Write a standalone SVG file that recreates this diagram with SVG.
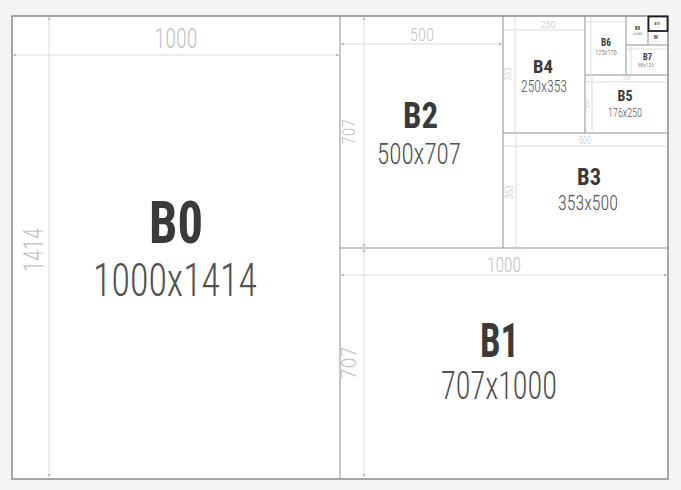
<svg xmlns="http://www.w3.org/2000/svg" width="681" height="490" viewBox="0 0 681 490">
<defs>
<style>
.bg{fill:#f4f4f4}
.paper{fill:#ffffff;stroke:#7a7a7a;stroke-width:1.3}
.div{stroke:#8f8f8f;stroke-width:1;fill:none}
.dim{stroke:#dcdcdc;stroke-width:1;fill:none}
.name{font-family:"Roboto Condensed","Liberation Sans Narrow","DejaVu Sans Condensed",Roboto,sans-serif;font-weight:700;fill:#3a3a3a;text-anchor:middle}
.size{font-family:"Roboto Condensed","Liberation Sans Narrow","DejaVu Sans Condensed",Roboto,sans-serif;font-weight:300;fill:#505050;text-anchor:middle}
.dl{font-family:"Roboto Condensed","Liberation Sans Narrow","DejaVu Sans Condensed",Roboto,sans-serif;font-weight:300;fill:#c2c2c2;text-anchor:middle}
</style>
<marker id="tick" viewBox="0 0 6 6" refX="6" refY="3" markerWidth="3" markerHeight="3" orient="auto-start-reverse">
<path d="M0,0 L6,3 L0,6 z" fill="#b5b5b5"/>
</marker>
</defs>
<rect class="bg" x="0" y="0" width="681" height="490"/>
<rect class="paper" x="12" y="16" width="656" height="463"/>

<g id="connectors">
<!-- B0 -->
<line class="dim" x1="13" y1="55" x2="339" y2="55" marker-start="url(#tick)" marker-end="url(#tick)"/>
<line class="dim" x1="49" y1="17" x2="49" y2="477" marker-start="url(#tick)" marker-end="url(#tick)"/>
<!-- B1 -->
<line class="dim" x1="341" y1="275" x2="667" y2="275" marker-start="url(#tick)" marker-end="url(#tick)"/>
<line class="dim" x1="364" y1="249" x2="364" y2="477" marker-start="url(#tick)" marker-end="url(#tick)"/>
<!-- B2 -->
<line class="dim" x1="341" y1="44" x2="502" y2="44" marker-start="url(#tick)" marker-end="url(#tick)"/>
<line class="dim" x1="364" y1="17" x2="364" y2="247" marker-start="url(#tick)" marker-end="url(#tick)"/>
<!-- B3 -->
<line class="dim" x1="504" y1="146" x2="667" y2="146"/>
<line class="dim" x1="516" y1="134" x2="516" y2="247"/>
<!-- B4 -->
<line class="dim" x1="504" y1="30" x2="584" y2="30"/>
<line class="dim" x1="515" y1="17" x2="515" y2="132"/>
<!-- B5 -->
<line class="dim" x1="586" y1="82" x2="667" y2="82"/>
<line class="dim" x1="592" y1="76" x2="592" y2="132"/>
<!-- B6 -->
<line class="dim" x1="586" y1="22" x2="625" y2="22"/>
<line class="dim" x1="591" y1="17" x2="591" y2="74"/>
<!-- B7 -->
<line class="dim" x1="627" y1="49" x2="667" y2="49"/>
<line class="dim" x1="631" y1="46" x2="631" y2="74"/>
</g>

<g id="dividers">
<line class="div" x1="340" y1="16" x2="340" y2="479"/>
<line class="div" x1="340" y1="248" x2="668" y2="248"/>
<line class="div" x1="503" y1="16" x2="503" y2="248"/>
<line class="div" x1="503" y1="133" x2="668" y2="133"/>
<line class="div" x1="585" y1="16" x2="585" y2="133"/>
<line class="div" x1="585" y1="75" x2="668" y2="75"/>
<line class="div" x1="626" y1="16" x2="626" y2="75"/>
<line class="div" x1="626" y1="45" x2="668" y2="45"/>
<line class="div" x1="648" y1="16" x2="648" y2="45"/>
<line class="div" x1="648" y1="31" x2="668" y2="31"/>
</g>

<g id="B0">
<text class="name" x="176" y="243" font-size="60" textLength="54" lengthAdjust="spacingAndGlyphs">B0</text>
<text class="size" x="175" y="296" font-size="46" textLength="164" lengthAdjust="spacingAndGlyphs">1000x1414</text>
<text class="dl" x="176" y="48" font-size="27" textLength="43" lengthAdjust="spacingAndGlyphs">1000</text>
<text class="dl" transform="translate(43,250) rotate(-90)" font-size="27" textLength="44" lengthAdjust="spacingAndGlyphs">1414</text>
</g>

<g id="B1">
<text class="name" x="499.5" y="357" font-size="49" textLength="39" lengthAdjust="spacingAndGlyphs">B1</text>
<text class="size" x="499" y="399" font-size="38" textLength="116" lengthAdjust="spacingAndGlyphs">707x1000</text>
<text class="dl" x="504" y="272" font-size="20" textLength="34" lengthAdjust="spacingAndGlyphs">1000</text>
<text class="dl" transform="translate(356,363) rotate(-90)" font-size="20" textLength="33" lengthAdjust="spacingAndGlyphs">707</text>
</g>

<g id="B2">
<text class="name" x="420.5" y="128" font-size="37" textLength="35" lengthAdjust="spacingAndGlyphs">B2</text>
<text class="size" x="419" y="164" font-size="30" textLength="84" lengthAdjust="spacingAndGlyphs">500x707</text>
<text class="dl" x="422" y="41" font-size="19" textLength="24" lengthAdjust="spacingAndGlyphs">500</text>
<text class="dl" transform="translate(355,132) rotate(-90)" font-size="19" textLength="26" lengthAdjust="spacingAndGlyphs">707</text>
</g>

<g id="B3">
<text class="name" x="589" y="185" font-size="24" textLength="24" lengthAdjust="spacingAndGlyphs">B3</text>
<text class="size" x="588" y="210" font-size="21" textLength="60" lengthAdjust="spacingAndGlyphs">353x500</text>
<text class="dl" x="585" y="144" font-size="10" textLength="12" lengthAdjust="spacingAndGlyphs">500</text>
<text class="dl" transform="translate(513,192) rotate(-90)" font-size="10" textLength="13" lengthAdjust="spacingAndGlyphs">353</text>
</g>

<g id="B4">
<text class="name" x="543" y="73" font-size="18" textLength="20" lengthAdjust="spacingAndGlyphs">B4</text>
<text class="size" x="544" y="92" font-size="17" textLength="46" lengthAdjust="spacingAndGlyphs">250x353</text>
<text class="dl" x="548" y="28" font-size="9" textLength="15" lengthAdjust="spacingAndGlyphs">250</text>
<text class="dl" transform="translate(511,74) rotate(-90)" font-size="9" textLength="13" lengthAdjust="spacingAndGlyphs">353</text>
</g>

<g id="B5">
<text class="name" x="625" y="101" font-size="15" textLength="15" lengthAdjust="spacingAndGlyphs">B5</text>
<text class="size" x="625" y="117" font-size="12" textLength="34" lengthAdjust="spacingAndGlyphs">176x250</text>
<text class="dl" x="627" y="80" font-size="5" textLength="8" lengthAdjust="spacingAndGlyphs">250</text>
<text class="dl" transform="translate(590,104) rotate(-90)" font-size="5" textLength="8" lengthAdjust="spacingAndGlyphs">176</text>
</g>

<g id="B6">
<text class="name" x="606" y="46" font-size="11" textLength="10" lengthAdjust="spacingAndGlyphs">B6</text>
<text class="size" x="606" y="55" font-size="7" textLength="22" lengthAdjust="spacingAndGlyphs">125x176</text>
</g>

<g id="B7">
<text class="name" x="647.5" y="60" font-size="9" textLength="9" lengthAdjust="spacingAndGlyphs">B7</text>
<text class="size" x="646" y="67" font-size="6" textLength="16" lengthAdjust="spacingAndGlyphs">88x125</text>
</g>

<g id="B8">
<text class="name" x="637.5" y="30" font-size="6" textLength="5" lengthAdjust="spacingAndGlyphs">B8</text>
<text class="size" x="637.5" y="35" font-size="3.5" textLength="9" lengthAdjust="spacingAndGlyphs">62x88</text>
</g>

<g id="B9">
<text class="name" x="656" y="38.5" font-size="4.5" textLength="4" lengthAdjust="spacingAndGlyphs">B9</text>
<text class="size" x="656" y="42" font-size="2.5" textLength="6" lengthAdjust="spacingAndGlyphs">44x62</text>
</g>

<g id="B10">
<rect x="648.5" y="16.5" width="19" height="14.5" fill="#ffffff" stroke="#1e1e1e" stroke-width="1.8"/>
<text class="name" x="657" y="24.5" font-size="4" textLength="5" lengthAdjust="spacingAndGlyphs">B10</text>
<text class="size" x="657" y="28" font-size="2.5" textLength="6" lengthAdjust="spacingAndGlyphs">31x44</text>
</g>
</svg>
